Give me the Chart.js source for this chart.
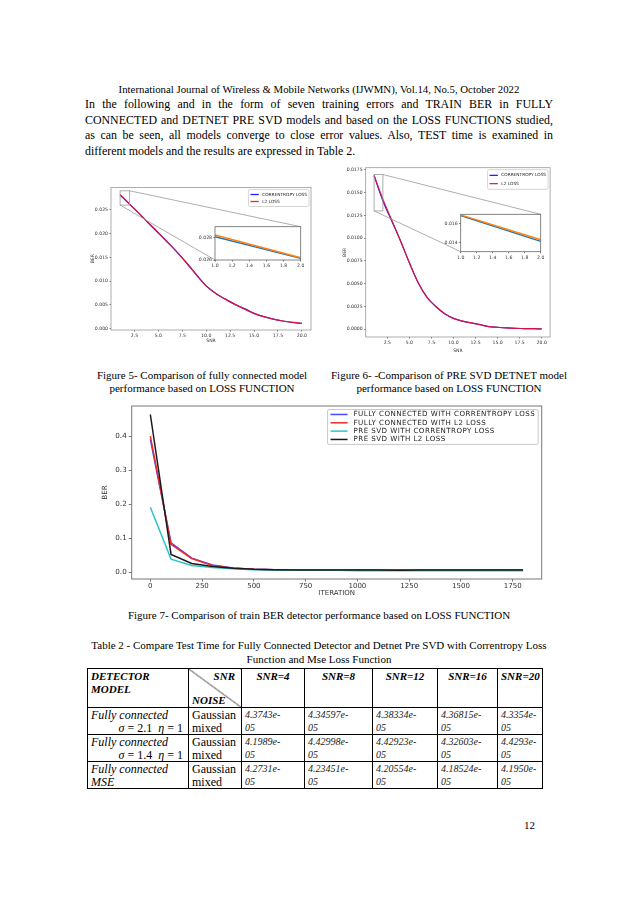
<!DOCTYPE html>
<html lang="en">
<head>
<meta charset="UTF-8">
<title>IJWMN page 12</title>
<style>
  html, body { margin: 0; padding: 0; background: #fff; }
  .page { position: relative; width: 638px; height: 903px; overflow: hidden; font-family: "Liberation Serif", "Times New Roman", serif; color: #000; }
  .abs { position: absolute; }
  .header { left: 0; width: 638px; top: 82px; text-align: center; font-size: 10.8px; line-height: 14px; }
  .para { left: 85px; width: 468px; top: 97px; font-size: 11.9px; line-height: 15.7px; }
  .para div { white-space: nowrap; }
  .para .j { text-align: justify; text-align-last: justify; }
  .cap { text-align: center; font-size: 11px; line-height: 13px; white-space: nowrap; }
  .chart { position: absolute; }
  .tbl { left: 87px; top: 668px; width: 455px; border-collapse: collapse; table-layout: fixed; }
  .tbl td { border: 1px solid #000; padding: 1px 3px 0 3px; vertical-align: top; line-height: 12.5px; font-size: 12px; }
  .tbl tr.hd td { height: 37px; }
  .tbl tr.row td { height: 24.5px; }
  .bi { font-weight: bold; font-style: italic; font-size: 11px !important; }
  .c { text-align: center; }
  .it { font-style: italic; }
  .num { font-style: italic; font-size: 10px !important; color: #222; }
  .diag { position: relative; background: linear-gradient(to top right, transparent calc(50% - 0.6px), #000 50%, transparent calc(50% + 0.6px)); }
  .diag .snr { position: absolute; right: 6px; top: 1px; }
  .diag .noise { position: absolute; left: 3px; bottom: 1px; }
  .r { display: block; text-align: right; padding-right: 2px; }
  .pg { left: 524px; top: 819px; font-size: 11px; }
</style>
</head>
<body>
<div class="page">
  <div class="abs header">International Journal of Wireless &amp; Mobile Networks (IJWMN), Vol.14, No.5, October 2022</div>
  <div class="abs para">
    <div class="j">In the following and in the form of seven training errors and TRAIN BER in FULLY</div>
    <div class="j">CONNECTED and DETNET PRE SVD models and based on the LOSS FUNCTIONS studied,</div>
    <div class="j">as can be seen, all models converge to close error values. Also, TEST time is examined in</div>
    <div>different models and the results are expressed in Table 2.</div>
  </div>

  <div class="chart" style="left:86px; top:183px; width:230px; height:165px;"><canvas id="fig5"></canvas></div>
  <div class="chart" style="left:198px; top:223px; width:106px; height:44px;"><canvas id="fig5inset"></canvas></div>
  <div class="chart" style="left:338px; top:163px; width:218px; height:195px;"><canvas id="fig6"></canvas></div>
  <div class="chart" style="left:442px; top:210px; width:102px; height:49px;"><canvas id="fig6inset"></canvas></div>

  <div class="abs cap" style="left:82px; width:240px; top:369px;">Figure 5- Comparison of fully connected model<br>performance based on LOSS FUNCTION</div>
  <div class="abs cap" style="left:329px; width:240px; top:369px;">Figure 6- -Comparison of PRE SVD DETNET model<br>performance based on LOSS FUNCTION</div>

  <div class="chart" style="left:92px; top:400px; width:456px; height:203px;"><canvas id="fig7"></canvas></div>

  <div class="abs cap" style="left:0; width:638px; top:609px;">Figure 7- Comparison of train BER detector performance based on LOSS FUNCTION</div>
  <div class="abs cap" style="left:0; width:638px; top:638px; line-height:14px;">Table 2 - Compare Test Time for Fully Connected Detector and Detnet Pre SVD with Correntropy Loss<br>Function and Mse Loss Function</div>

  <table class="abs tbl">
    <colgroup>
      <col style="width:101px"><col style="width:53px"><col style="width:63px"><col style="width:68px"><col style="width:65px"><col style="width:60px"><col style="width:45px">
    </colgroup>
    <tr class="hd">
      <td class="bi">DETECTOR<br>MODEL</td>
      <td class="diag bi"><span class="snr">SNR</span><span class="noise">NOISE</span></td>
      <td class="bi c">SNR=4</td><td class="bi c">SNR=8</td><td class="bi c">SNR=12</td><td class="bi c">SNR=16</td><td class="bi c">SNR=20</td>
    </tr>
    <tr class="row">
      <td class="it">Fully connected<br><span class="r">σ <span style="font-style:normal">= 2.1</span>&nbsp; η <span style="font-style:normal">= 1</span></span></td>
      <td>Gaussian<br>mixed</td>
      <td class="num">4.3743e-<br>05</td><td class="num">4.34597e-<br>05</td><td class="num">4.38334e-<br>05</td><td class="num">4.36815e-<br>05</td><td class="num">4.3354e-<br>05</td>
    </tr>
    <tr class="row">
      <td class="it">Fully connected<br><span class="r">σ <span style="font-style:normal">= 1.4</span>&nbsp; η <span style="font-style:normal">= 1</span></span></td>
      <td>Gaussian<br>mixed</td>
      <td class="num">4.1989e-<br>05</td><td class="num">4.42998e-<br>05</td><td class="num">4.42923e-<br>05</td><td class="num">4.32603e-<br>05</td><td class="num">4.4293e-<br>05</td>
    </tr>
    <tr class="row">
      <td class="it">Fully connected<br>MSE</td>
      <td>Gaussian<br>mixed</td>
      <td class="num">4.2731e-<br>05</td><td class="num">4.23451e-<br>05</td><td class="num">4.20554e-<br>05</td><td class="num">4.18524e-<br>05</td><td class="num">4.1950e-<br>05</td>
    </tr>
  </table>

  <div class="abs pg">12</div>
</div>

<script src="https://cdn.jsdelivr.net/npm/chart.js@4.4.6/dist/chart.umd.min.js"></script>
<script>
  // figure 5 / 6: BER against SNR
  const snr = [1, 2, 3, 4, 5, 6, 7, 8, 9, 10, 11, 12, 13, 14, 15, 16, 17, 18, 19, 20];
  const fcCorrBer = [0.0281, 0.02615, 0.0242, 0.0221, 0.0201, 0.0181, 0.0160, 0.0137, 0.0113, 0.0090, 0.0074, 0.0062, 0.0051, 0.0042, 0.0032, 0.0025, 0.0020, 0.0016, 0.0013, 0.0011];
  const fcL2Ber = [0.02825, 0.0262, 0.0242, 0.0222, 0.0202, 0.0181, 0.0160, 0.0137, 0.0112, 0.0090, 0.0074, 0.0062, 0.0051, 0.0041, 0.0032, 0.0025, 0.0020, 0.0016, 0.0013, 0.0011];
  const svdCorrBer = [0.01685, 0.0141, 0.0119, 0.0097, 0.0073, 0.0051, 0.0035, 0.0025, 0.0017, 0.0012, 0.0009, 0.0007, 0.0005, 0.0003, 0.00022, 0.00015, 0.0001, 0.00008, 0.00006, 0.00005];
  const svdL2Ber = [0.01693, 0.01428, 0.0120, 0.0097, 0.0073, 0.0051, 0.0035, 0.0025, 0.0017, 0.0012, 0.0009, 0.0007, 0.0005, 0.0003, 0.00022, 0.00015, 0.0001, 0.00008, 0.00006, 0.00005];
  const snrTicks = [2.5, 5, 7.5, 10, 12.5, 15, 17.5, 20];
  const fcBerTicks = [0, 0.005, 0.010, 0.015, 0.020, 0.025];
  const svdBerTicks = [0, 0.0025, 0.005, 0.0075, 0.01, 0.0125, 0.015, 0.0175];
  const insetSnrTicks = [1, 1.2, 1.4, 1.6, 1.8, 2];
  const fcInsetTicks = [0.026, 0.028];
  const svdInsetTicks = [0.014, 0.016];

  // figure 7: train BER against iteration
  const iterations = [0, 100, 200, 300, 400, 500, 600, 700, 800, 900, 1000, 1100, 1200, 1300, 1400, 1500, 1600, 1700, 1800];
  const trainFcCorr = [0.392, 0.087, 0.042, 0.022, 0.013, 0.009, 0.008, 0.007, 0.008, 0.006, 0.007, 0.006, 0.006, 0.006, 0.006, 0.006, 0.006, 0.007, 0.006];
  const trainFcL2 = [0.401, 0.083, 0.041, 0.020, 0.012, 0.009, 0.008, 0.006, 0.007, 0.007, 0.006, 0.006, 0.007, 0.006, 0.006, 0.006, 0.006, 0.006, 0.006];
  const trainSvdCorr = [0.192, 0.039, 0.020, 0.014, 0.011, 0.008, 0.007, 0.006, 0.006, 0.006, 0.005, 0.005, 0.005, 0.005, 0.005, 0.005, 0.005, 0.005, 0.005];
  const trainSvdL2 = [0.465, 0.053, 0.026, 0.017, 0.012, 0.009, 0.008, 0.007, 0.007, 0.007, 0.007, 0.007, 0.006, 0.007, 0.007, 0.007, 0.007, 0.007, 0.007];
  const iterTicks = [0, 250, 500, 750, 1000, 1250, 1500, 1750];
  const trainBerTicks = [0, 0.1, 0.2, 0.3, 0.4];
  const trainLabels = ['FULLY CONNECTED WITH CORRENTROPY LOSS', 'FULLY CONNECTED WITH L2 LOSS', 'PRE SVD WITH CORRENTROPY LOSS', 'PRE SVD WITH L2 LOSS'];

  const charts = {};
  const pts = (xs, ys) => xs.map((x, i) => ({ x: x, y: ys[i] }));

  // box round the plot area, like matplotlib spines
  const framePlugin = {
    id: 'frame',
    afterDraw(chart, args, o) {
      const { ctx, chartArea: a } = chart;
      ctx.save();
      ctx.strokeStyle = o.color || '#888';
      ctx.lineWidth = o.width || 1;
      ctx.strokeRect(a.left, a.top, a.right - a.left, a.bottom - a.top);
      ctx.restore();
    }
  };

  // white face for the zoom insets
  const insetBg = {
    id: 'insetBg',
    beforeDraw(chart) {
      const { ctx, chartArea: a } = chart;
      ctx.save();
      ctx.fillStyle = '#fff';
      ctx.fillRect(a.left, a.top, a.right - a.left, a.bottom - a.top);
      ctx.restore();
    }
  };

  // legend box in the upper right corner of the plot area
  const boxLegend = {
    id: 'boxLegend',
    afterDraw(chart, args, o) {
      if (!o.size) return;
      const { ctx, chartArea: a } = chart;
      const sets = chart.data.datasets;
      ctx.save();
      ctx.font = o.size + 'px "DejaVu Sans"';
      if (o.spacing) ctx.letterSpacing = o.spacing + 'px';
      const tw = Math.max(...sets.map(d => ctx.measureText(d.label).width));
      const w = o.padX + o.line + o.gap + tw + o.padX;
      const h = o.padY * 2 + o.row * sets.length;
      const x = a.right - o.margin - w, y = a.top + o.margin;
      ctx.fillStyle = 'rgba(255,255,255,0.85)';
      ctx.strokeStyle = o.border;
      ctx.lineWidth = 0.8;
      ctx.beginPath();
      ctx.roundRect(x, y, w, h, 1.5);
      ctx.fill();
      ctx.stroke();
      sets.forEach((d, i) => {
        const cy = y + o.padY + o.row * (i + 0.5);
        ctx.strokeStyle = d.borderColor;
        ctx.lineWidth = o.lw;
        ctx.beginPath();
        ctx.moveTo(x + o.padX, cy);
        ctx.lineTo(x + o.padX + o.line, cy);
        ctx.stroke();
        ctx.fillStyle = '#222';
        ctx.textBaseline = 'middle';
        ctx.fillText(d.label, x + o.padX + o.line + o.gap, cy);
      });
      ctx.restore();
    }
  };

  // zoom rectangle and the two lines joining it to the inset
  const zoomMark = {
    id: 'zoomMark',
    afterDatasetsDraw(chart, args, o) {
      const ins = charts[o.target];
      if (!ins) return;
      const { ctx, scales } = chart;
      const rx0 = scales.x.getPixelForValue(o.x0), rx1 = scales.x.getPixelForValue(o.x1);
      const ry0 = scales.y.getPixelForValue(o.y0), ry1 = scales.y.getPixelForValue(o.y1);
      const mb = chart.canvas.getBoundingClientRect(), ib = ins.canvas.getBoundingClientRect();
      const dx = ib.left - mb.left, dy = ib.top - mb.top;
      const ia = ins.chartArea;
      ctx.save();
      ctx.strokeStyle = '#999';
      ctx.lineWidth = 0.8;
      ctx.strokeRect(rx0, ry1, rx1 - rx0, ry0 - ry1);
      ctx.beginPath();
      ctx.moveTo(rx1, ry1);
      ctx.lineTo(dx + ia.right, dy + ia.top);
      ctx.moveTo(rx0, ry0);
      ctx.lineTo(dx + ia.left, dy + ia.bottom);
      ctx.stroke();
      ctx.restore();
    }
  };

  function axis(min, max, ticks, digits, size, fit, title, titlePad, tick) {
    const font = { family: 'DejaVu Sans', size: size };
    return {
      type: 'linear', min: min, max: max, bounds: 'data',
      afterBuildTicks: s => { s.ticks = ticks.map(v => ({ value: v })); },
      ticks: { callback: v => v.toFixed(digits), font: font, color: '#333', padding: tick.pad, maxRotation: 0, autoSkip: false },
      grid: { drawOnChartArea: false, drawTicks: true, tickLength: tick.len, color: '#555', lineWidth: 0.8 },
      border: { display: false },
      title: title ? { display: true, text: title, font: font, color: '#333', padding: titlePad } : { display: false },
      afterFit: s => {
        if (s.isHorizontal()) s.height = fit; else s.width = fit;
        s.paddingLeft = s.paddingRight = s.paddingTop = s.paddingBottom = 0;
      }
    };
  }

  function lineSet(label, xs, ys, color, width) {
    return { label: label, data: pts(xs, ys), borderColor: color, backgroundColor: color, borderWidth: width, pointRadius: 0, fill: false, tension: 0 };
  }

  function curveSet(label, xs, ys, color, width) {
    return Object.assign(lineSet(label, xs, ys, color, width), { cubicInterpolationMode: 'monotone' });
  }

  function makeChart(id, datasets, x, y, padding, plugins) {
    // later series are painted over earlier ones, as in matplotlib
    datasets.forEach((d, i) => { d.order = datasets.length - i; });
    return new Chart(document.getElementById(id), {
      type: 'line',
      data: { datasets: datasets },
      options: {
        responsive: true,
        maintainAspectRatio: false,
        animation: false,
        events: [],
        layout: { padding: padding },
        scales: { x: x, y: y },
        plugins: Object.assign({ legend: { display: false }, tooltip: { enabled: false } }, plugins)
      },
      plugins: [framePlugin, insetBg, boxLegend, zoomMark]
    });
  }

  const small = { len: 1.5, pad: 1.5 };
  const red = 'rgba(232,16,52,0.92)';

  // insets first, so the main charts can join their zoom boxes to them
  charts.inset5 = makeChart('fig5inset',
    [lineSet('CORRENTROPY LOSS', snr, fcCorrBer, '#1f77b4', 1.4), lineSet('L2 LOSS', snr, fcL2Ber, '#ff7f0e', 1.4)],
    axis(1, 2, insetSnrTicks, 1, 4.6, 7, null, 0, small),
    axis(0.026, 0.029, fcInsetTicks, 3, 4.6, 17, null, 0, small),
    { top: 3.7, right: 3.3, left: 0, bottom: 0 },
    { frame: { color: '#666', width: 0.8 }, insetBg: {} });

  charts.inset6 = makeChart('fig6inset',
    [lineSet('CORRENTROPY LOSS', snr, svdCorrBer, '#1f77b4', 1.4), lineSet('L2 LOSS', snr, svdL2Ber, '#ff7f0e', 1.4)],
    axis(1, 2, insetSnrTicks, 1, 4.6, 7.3, null, 0, small),
    axis(0.013, 0.017, svdInsetTicks, 3, 4.6, 18.7, null, 0, small),
    { top: 4.3, right: 3.3, left: 0, bottom: 0 },
    { frame: { color: '#666', width: 0.8 }, insetBg: {} });

  charts.fig5 = makeChart('fig5',
    [curveSet('CORRENTROPY LOSS', snr, fcCorrBer, '#2020ff', 1.2), curveSet('L2 LOSS', snr, fcL2Ber, red, 1.2)],
    axis(0.05, 20.95, snrTicks, 1, 4.6, 18, 'SNR', { top: 0, bottom: 4.3 }, small),
    axis(-0.0003, 0.0297, fcBerTicks, 3, 4.6, 25, 'BER', { top: 3.6, bottom: 0 }, small),
    { top: 4.5, right: 5, left: 0, bottom: 0 },
    {
      frame: { color: '#999', width: 0.8 },
      boxLegend: { size: 4.3, padX: 2, padY: 1.5, line: 8.3, gap: 3.4, row: 7, margin: 2, lw: 1.3, border: '#ccc' },
      zoomMark: { target: 'inset5', x0: 1, x1: 2, y0: 0.026, y1: 0.029 }
    });

  charts.fig6 = makeChart('fig6',
    [curveSet('CORRENTROPY LOSS', snr, svdCorrBer, '#2020ff', 1.2), curveSet('L2 LOSS', snr, svdL2Ber, red, 1.2)],
    axis(0.05, 20.95, snrTicks, 1, 4.6, 21, 'SNR', { top: 0, bottom: 4.6 }, small),
    axis(-0.00085, 0.01775, svdBerTicks, 4, 4.6, 27.7, 'BER', { top: 4.3, bottom: 0 }, small),
    { top: 4.7, right: 5.9, left: 0, bottom: 0 },
    {
      frame: { color: '#999', width: 0.8 },
      boxLegend: { size: 4.3, padX: 2, padY: 1.5, line: 8.3, gap: 3.4, row: 8.3, margin: 2, lw: 1.3, border: '#ccc' },
      zoomMark: { target: 'inset6', x0: 1, x1: 2, y0: 0.013, y1: 0.017 }
    });

  charts.fig7 = makeChart('fig7',
    [
      lineSet(trainLabels[0], iterations, trainFcCorr, 'rgba(40,40,255,0.85)', 1.5),
      lineSet(trainLabels[1], iterations, trainFcL2, '#f02828', 1.5),
      lineSet(trainLabels[2], iterations, trainSvdCorr, '#2ec6c6', 1.5),
      lineSet(trainLabels[3], iterations, trainSvdL2, '#1a1a1a', 1.5)
    ],
    axis(-90, 1890, iterTicks, 0, 7, 24, 'ITERATION', { top: 0, bottom: 5.5 }, { len: 2.5, pad: 0 }),
    axis(-0.0195, 0.49, trainBerTicks, 1, 7.2, 39.7, 'BER', { top: 8.8, bottom: 0 }, { len: 3, pad: 2 }),
    { top: 6, right: 6.3, left: 0, bottom: 0 },
    {
      frame: { color: '#777', width: 1 },
      boxLegend: { size: 7.1, spacing: 0.45, padX: 3, padY: 0.8, line: 17, gap: 6, row: 8.33, margin: 3.5, lw: 1.5, border: '#bbb' }
    });
</script>
</body>
</html>
